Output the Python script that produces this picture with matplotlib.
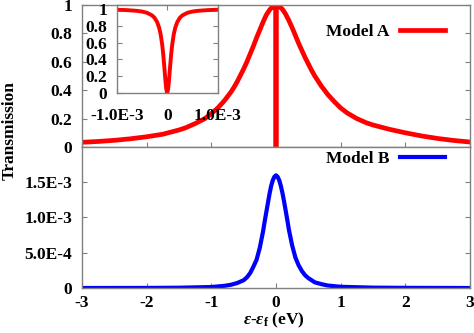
import numpy as np
import matplotlib
matplotlib.use("Agg")
import matplotlib.pyplot as plt

# Model A, main panel
xa = [-3.0, -2.75, -2.5, -2.25, -2.0, -1.75, -1.5, -1.4, -1.25, -1.1, -1.0, -0.9, -0.8, -0.75,
      -0.7, -0.65, -0.6, -0.55, -0.5, -0.45, -0.4, -0.35, -0.3, -0.25, -0.2, -0.15, -0.1,
      -0.05, -0.002, 0.0, 0.002, 0.05, 0.1, 0.15, 0.2, 0.25, 0.3, 0.35, 0.4, 0.45, 0.5, 0.55,
      0.6, 0.65, 0.7, 0.75, 0.8, 0.9, 1.0, 1.1, 1.25, 1.4, 1.5, 1.75, 2.0, 2.25, 2.5, 2.75, 3.0]
ta = [0.033, 0.039, 0.047, 0.058, 0.072, 0.090, 0.120, 0.135, 0.165, 0.200, 0.235, 0.275,
      0.325, 0.355, 0.385, 0.420, 0.460, 0.505, 0.550, 0.600, 0.655, 0.710, 0.770, 0.825,
      0.880, 0.930, 0.965, 0.990, 0.997, 0.0, 0.997, 0.990, 0.970, 0.935, 0.890, 0.840,
      0.785, 0.730, 0.680, 0.630, 0.585, 0.540, 0.500, 0.465, 0.430, 0.400, 0.370, 0.320,
      0.275, 0.240, 0.200, 0.170, 0.155, 0.125, 0.100, 0.078, 0.060, 0.046, 0.035]

# Model A, zoom on the dip (inset)
x_in = [-1.0e-3, -8e-4, -6e-4, -5e-4, -4e-4, -3e-4, -2.5e-4, -2e-4, -1.6e-4, -1.3e-4, -1e-4,
        -8e-5, -6e-5, -4e-5, -2e-5, 0.0, 2e-5, 4e-5, 6e-5, 8e-5, 1e-4, 1.3e-4, 1.6e-4, 2e-4,
        2.5e-4, 3e-4, 4e-4, 5e-4, 6e-4, 8e-4, 1.0e-3]
t_in = [0.993, 0.989, 0.980, 0.972, 0.957, 0.926, 0.897, 0.847, 0.780, 0.701, 0.581,
        0.471, 0.333, 0.182, 0.053, 0.0, 0.053, 0.182, 0.333, 0.471, 0.581, 0.701, 0.780,
        0.847, 0.897, 0.926, 0.957, 0.972, 0.980, 0.989, 0.993]

# Model B
xb = [-3.0, -2.0, -1.5, -1.0, -0.8, -0.7, -0.6, -0.5, -0.45, -0.4, -0.35, -0.3, -0.25, -0.2,
      -0.175, -0.15, -0.125, -0.1, -0.075, -0.05, -0.025, 0.0, 0.025, 0.05, 0.075, 0.1, 0.125,
      0.15, 0.175, 0.2, 0.25, 0.3, 0.35, 0.4, 0.45, 0.5, 0.6, 0.7, 0.8, 1.0, 1.5, 2.0, 3.0]
tb = [0.0, 0.001e-3, 0.004e-3, 0.014e-3, 0.030e-3, 0.045e-3, 0.070e-3, 0.110e-3, 0.150e-3,
      0.210e-3, 0.300e-3, 0.400e-3, 0.570e-3, 0.800e-3, 0.940e-3, 1.070e-3, 1.200e-3,
      1.330e-3, 1.440e-3, 1.520e-3, 1.570e-3, 1.590e-3, 1.570e-3, 1.520e-3, 1.440e-3,
      1.340e-3, 1.220e-3, 1.090e-3, 0.960e-3, 0.820e-3, 0.600e-3, 0.430e-3, 0.320e-3,
      0.240e-3, 0.180e-3, 0.140e-3, 0.080e-3, 0.055e-3, 0.035e-3, 0.017e-3, 0.005e-3,
      0.002e-3, 0.0]

x_ticks = [-3, -2, -1, 0, 1, 2, 3]
x_labels = ["-3", "-2", "-1", "0", "1", "2", "3"]
ya_ticks = [0, 0.2, 0.4, 0.6, 0.8, 1.0]
ya_labels = ["0", "0.2", "0.4", "0.6", "0.8", "1"]
yb_ticks = [0, 5e-4, 1e-3, 1.5e-3]
yb_labels = ["0", "5.0E-4", "1.0E-3", "1.5E-3"]
xin_ticks = [-1e-3, 0, 1e-3]
xin_labels = ["-1.0E-3", "0", "1.0E-3"]

plt.rcParams['font.family'] = ['Liberation Serif', 'DejaVu Serif']
plt.rcParams['font.weight'] = 'bold'
plt.rcParams['mathtext.fontset'] = 'custom'
plt.rcParams['mathtext.rm'] = 'Liberation Serif:bold'
plt.rcParams['mathtext.it'] = 'Liberation Serif:italic:bold'
plt.rcParams['mathtext.bf'] = 'Liberation Serif:bold'
FS = 12.5
SPINE = '#808080'

fig = plt.figure(figsize=(4.74, 3.33), dpi=100)
W, H = 474.0, 333.0
L, R = 82 / W, 470 / W
ax1 = fig.add_axes([L, 1 - 147 / H, R - L, 142 / H])
ax2 = fig.add_axes([L, 1 - 288 / H, R - L, 141 / H])
axi = fig.add_axes([116.7 / W, 1 - 93 / H, 101 / W, 88 / H])

def style(ax, top=False):
    for s in ax.spines.values():
        s.set_color(SPINE)
        s.set_linewidth(1.0)
    ax.tick_params(direction='in', length=3.5, width=0.8, color=SPINE, labelsize=FS,
                   right=True, top=top, pad=7)

ax1.plot(xa, ta, color='#ff0000', lw=3.4, label='Model A')
ax1.set_xlim(-3, 3)
ax1.set_ylim(0, 1)
ax1.set_xticks(x_ticks)
ax1.set_xticklabels([])
ax1.set_yticks(ya_ticks)
ax1.set_yticklabels(ya_labels)
style(ax1)
ax1.legend(loc='center right', bbox_to_anchor=((445 - 82) / 388, (147 - 32) / 142),
           frameon=False, markerfirst=False, fontsize=FS, handlelength=2.6,
           handletextpad=0.6, borderpad=0, borderaxespad=0)

ax2.plot(xb, tb, color='#0000ff', lw=3.0, label='Model B')
ax2.set_xlim(-3, 3)
ax2.set_ylim(0, 1.99e-3)
ax2.set_xticks(x_ticks)
ax2.set_xticklabels(x_labels)
ax2.set_yticks(yb_ticks)
ax2.set_yticklabels(yb_labels)
style(ax2)
ax2.tick_params(axis='x', pad=5)
ax2.legend(loc='center right', bbox_to_anchor=((445 - 82) / 388, (288 - 159) / 141),
           frameon=False, markerfirst=False, fontsize=FS, handlelength=2.6,
           handletextpad=0.6, borderpad=0, borderaxespad=0)

axi.plot(x_in, t_in, color='#ff0000', lw=2.8)
axi.set_xlim(-1e-3, 1e-3)
axi.set_ylim(0, 1.05)
axi.set_xticks(xin_ticks)
axi.set_xticklabels(xin_labels)
axi.set_yticks(ya_ticks)
axi.set_yticklabels(ya_labels)
style(axi, top=True)
axi.tick_params(axis='x', pad=11)
axi.tick_params(axis='y', pad=7)

fig.text(10 / W, 1 - 131 / H, 'Transmission', rotation=90, ha='center', va='center',
         fontsize=FS, fontweight='bold')
fig.text(274 / W, 1 - 320 / H, r'$\varepsilon$-$\varepsilon_{\rm f}$ (eV)', ha='center',
         va='center', fontsize=FS, fontweight='bold')

fig.savefig('out.png', dpi=100)
